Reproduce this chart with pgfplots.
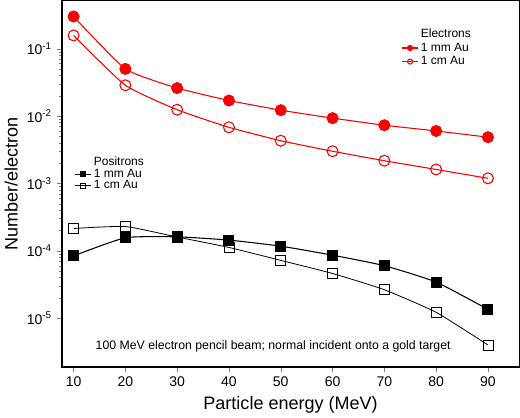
\documentclass[border=0pt]{standalone}
\usepackage{fontspec}
\setmainfont{Liberation Sans}
\usepackage{pgfplots}
\pgfplotsset{compat=1.18}
\definecolor{ered}{RGB}{250,0,0}
\begin{document}
\begin{tikzpicture}
\begin{axis}[
 width=342.75pt, height=274.5pt, scale only axis,
 xmin=7.74, xmax=96.05, ymode=log, ymin=1.88e-6, ymax=0.514,
 legend cell align=left,
 legend style={draw=none, fill=none, font=\fontsize{9}{10}\selectfont, row sep=-1.5pt, inner sep=1pt, at={(0.74,0.935)}, anchor=north west},
 legend image code/.code={\draw[mark repeat=2,mark phase=2,#1,mark size=1.9pt] plot coordinates {(0cm,0cm) (0.2cm,0cm) (0.4cm,0cm)};},
 xtick={10,20,30,40,50,60,70,80,90},
 xticklabels={10,20,30,40,50,60,70,80,90},
 ytick={1e-5,1e-4,1e-3,1e-2,1e-1},
 yticklabels={10\textsuperscript{-5},10\textsuperscript{-4},10\textsuperscript{-3},10\textsuperscript{-2},10\textsuperscript{-1}},
 tick align=outside, xtick pos=bottom, ytick pos=left,
 major tick length=4pt, minor tick length=2.5pt,
 ticklabel style={font=\fontsize{10.5}{12}\selectfont},
 xlabel={Particle energy (MeV)}, ylabel={Number/electron},
 label style={font=\fontsize{13.5}{15}\selectfont},
 axis line style={line width=1.1pt},
]
\addlegendimage{empty legend}
\addlegendentry{Electrons}
\addplot[ered, line width=0.8pt, smooth, tension=0.3, mark=*, mark size=4.1pt, mark options={fill=ered}]
 coordinates {(10,0.30) (20,0.050) (30,0.026) (40,0.017) (50,0.0122) (60,0.0093) (70,0.0073) (80,0.0060) (90,0.00485)};
\addlegendentry{1 mm Au}
\addplot[ered, line width=0.8pt, smooth, tension=0.3, mark=o, mark size=4.1pt, mark options={fill=white}]
 coordinates {(10,0.157) (20,0.0286) (30,0.0124) (40,0.0068) (50,0.0043) (60,0.0030) (70,0.00217) (80,0.00161) (90,0.00119)};
\addlegendentry{1 cm Au}
\node[font=\fontsize{9.2}{10}\selectfont] at (axis description cs:0.462,0.057)
 {100 MeV electron pencil beam; normal incident onto a gold target};
\end{axis}
\begin{axis}[
 width=342.75pt, height=274.5pt, scale only axis, hide axis,
 xmin=7.74, xmax=96.05, ymode=log, ymin=1.88e-6, ymax=0.514,
 legend cell align=left,
 legend style={draw=none, fill=none, font=\fontsize{9}{10}\selectfont, row sep=-3pt, inner sep=1pt, at={(0.025,0.585)}, anchor=north west},
 legend image code/.code={\draw[mark repeat=2,mark phase=2,#1,mark size=1.9pt] plot coordinates {(0cm,0cm) (0.2cm,0cm) (0.4cm,0cm)};},
]
\addlegendimage{empty legend}
\addlegendentry{Positrons}
\addplot[black, line width=0.8pt, smooth, tension=0.3, mark=square*, mark size=3.75pt, mark options={fill=black}]
 coordinates {(10,8.4e-5) (20,1.56e-4) (30,1.61e-4) (40,1.44e-4) (50,1.17e-4) (60,8.6e-5) (70,6.0e-5) (80,3.43e-5) (90,1.35e-5)};
\addlegendentry{1 mm Au}
\addplot[black, line width=0.6pt, smooth, tension=0.3, mark=square, mark size=3.75pt, mark options={fill=white}]
 coordinates {(10,2.14e-4) (20,2.29e-4) (30,1.6e-4) (40,1.12e-4) (50,7.2e-5) (60,4.6e-5) (70,2.64e-5) (80,1.22e-5) (90,4.0e-6)};
\addlegendentry{1 cm Au}
\end{axis}
\end{tikzpicture}
\end{document}
